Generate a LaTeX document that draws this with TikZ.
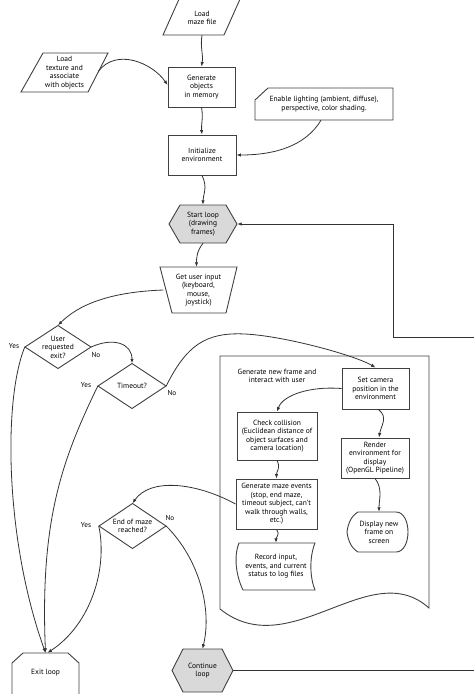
\documentclass[tikz,border=0pt]{standalone}
\usepackage{fontspec}
\setmainfont{PT Sans}
\usetikzlibrary{calc,arrows.meta}
\begin{document}
\begin{tikzpicture}[x=1pt,y=-1pt,
  every node/.style={font=\fontsize{7.5}{8.5}\selectfont, align=center, inner sep=0pt, text=black},
  shp/.style={draw=black!75, line width=0.9pt, fill=white},
  gry/.style={shp, fill=black!15},
  rbox/.style={draw=black!75, line width=0.9pt, fill=white},
  conn/.style={draw=black!80, line width=0.8pt},
  arr/.style={conn, -{Latex[length=4.5pt,width=3.5pt]}},
  lbl/.style={font=\fontsize{7.2}{8}\selectfont}]
\useasboundingbox (0,0) rectangle (474,694);

% container
\draw[shp] (220,609) -- (220,356) -- (429,356) -- (429,608) .. controls (370,555) and (290,665) .. (220,609);

% shapes drawn directly
\draw[shp] (163,35) -- (224,35) -- (241,-3) -- (180,-3) -- cycle;
\draw[shp] (21,92) -- (88,92) -- (108,53) -- (43,53) -- cycle;
\draw[shp] (268,88) -- (393,88) -- (393,120) -- (255,120) -- (255,100) -- cycle;
\draw[gry] (169,224) -- (180,205) -- (226,205) -- (237,224) -- (226,243) -- (180,243) -- cycle;
\draw[shp] (160,267) -- (237,267) -- (226,313) -- (172,313) -- cycle;
\draw[shp] (25,347) -- (58,325.5) -- (91,347) -- (58,368.5) -- cycle;
\draw[shp] (98,386) -- (132,363.5) -- (166,386) -- (132,408.5) -- cycle;
\draw[shp] (99,526) -- (132.5,503.5) -- (166,526) -- (132.5,548.5) -- cycle;
\draw[shp] (358,512) -- (396,512) .. controls (412,512) and (412,552) .. (396,552) -- (358,552) .. controls (351,548) and (348,540) .. (347,532) .. controls (348,524) and (351,516) .. (358,512) -- cycle;
\draw[shp] (239,543) -- (315,543) .. controls (309,558) and (310,578) .. (315,590) -- (243,590) .. controls (237,578) and (233,558) .. (239,543) -- cycle;
\draw[shp] (12,700) -- (12,663) -- (23,653) -- (68,653) -- (79,663) -- (79,700);
\draw[gry] (172,670.5) -- (183,649) -- (222,649) -- (233,670.5) -- (222,692) -- (183,692) -- cycle;

% nodes
\node[minimum width=61pt, minimum height=34pt] (maze) at (202,18) {Load\\maze file};
\node[minimum width=67pt, minimum height=39pt] (tex) at (64.5,72.5) {Load\\texture and\\associate\\with objects};
\node[rbox, minimum width=67pt, minimum height=40pt] (gen) at (201.5,87) {Generate\\objects\\in memory};
\node[minimum width=138pt, minimum height=32pt] (light) at (324,104) {Enable lighting (ambient, diffuse),\\perspective, color shading.};
\node[rbox, minimum width=68pt, minimum height=40pt] (init) at (202,155) {Initialize\\environment};
\node[minimum width=68pt, minimum height=38pt] (start) at (203,224) {Start loop\\(drawing\\frames)};
\node[minimum width=77pt, minimum height=46pt] (inp) at (198.5,290) {Get user input\\(keyboard,\\mouse,\\joystick)};
\node[minimum width=66pt, minimum height=43pt] (user) at (58,347) {User\\requested\\exit?};
\node[minimum width=68pt, minimum height=45pt] (tout) at (132,386) {Timeout?};
\node[minimum width=67pt, minimum height=45pt] (endm) at (132.5,526) {End of maze\\reached?};
\node (title) at (277,376) {Generate new frame and\\interact with user};
\node[rbox, minimum width=67pt, minimum height=41pt] (cam) at (375.5,388.5) {Set camera\\position in the\\environment};
\node[rbox, minimum width=80pt, minimum height=48pt] (coll) at (277,436) {Check collision\\(Euclidean distance of\\object surfaces and\\camera location)};
\node[rbox, minimum width=68pt, minimum height=40pt] (rend) at (375,458) {Render\\environment for\\display\\(OpenGL Pipeline)};
\node[rbox, minimum width=81pt, minimum height=50pt] (evt) at (276.5,504) {Generate maze events\\(stop, end maze,\\timeout subject, can't\\walk through walls,\\etc.)};
\node[minimum width=61pt, minimum height=40pt] (disp) at (379,532) {Display new\\frame on\\screen};
\node[minimum width=78pt, minimum height=47pt] (rec) at (276,566.5) {Record input,\\events, and current\\status to log files};
\node[minimum width=67pt, minimum height=40pt] (exit) at (45.5,673) {Exit loop};
\node[minimum width=61pt, minimum height=43pt] (cont) at (202.5,670.5) {Continue\\loop};

% labels
\node[lbl] (y1) at (14,346) {Yes};
\node[lbl] (n1) at (96,355) {No};
\node[lbl] (y2) at (86,385) {Yes};
\node[lbl] (n2) at (172,393) {No};
\node[lbl] (y3) at (86,525) {Yes};
\node[lbl] (n3) at (170,518) {No};

% edge coordinates
\coordinate (edgeA) at (474,670.5);
\coordinate (edgeB) at (474,337);
\coordinate (bendB) at (393,337);
\coordinate (bendC) at (393,224);
\coordinate (via1) at (245,334);

% connectors
\draw[arr] (maze.south) .. controls +(-2,12) and +(2,-12) .. (gen.north);
\draw[arr] ($(tex.east)+(0,-1)$) .. controls +(18,-24) and +(-15,-22) .. ($(gen.west)+(0,-2)$);
\draw[arr] (gen.south) .. controls +(2,10) and +(-1,-10) .. (init.north);
\draw[arr] ($(light.south)+(-3,0)$) .. controls +(-15,25) and +(40,0) .. (init.east);
\draw[arr] (init.south) .. controls +(6,12) and +(0,-10) .. (start.north);
\draw[arr] (start.south) .. controls +(-6,8) and +(0,-10) .. ($(inp.north)+(-2,0)$);
\draw[arr] ($(inp.west)+(3.5,0)$) .. controls +(-55,2) and +(20,-20) .. (user.north);
\draw[arr] (user.east) .. controls +(22,-10) and +(0,-20) .. (tout.north);
\draw[arr] (tout.east) .. controls +(20,-40) and +(-40,-2) .. (via1) .. controls +(40,2) and +(-20,-12) .. (cam.north);
\draw[arr] (user.west) .. controls (3,400) and (5,540) .. (exit.north);
\draw[arr] (tout.west) .. controls (62,460) and (40,520) .. (exit.north);
\draw[arr] (endm.west) .. controls (108,570) and (90,625) .. ($(exit.north)+(2,0)$);
\draw[arr] (endm.east) .. controls (200,560) and (212,610) .. (cont.north);
\draw[arr] (evt.west) .. controls (195,482) and (150,478) .. (endm.north);
\draw[arr] (cam.west) .. controls (310,386) and (283,395) .. (coll.north);
\draw[arr] (coll.south) .. controls +(4,8) and +(0,-8) .. (evt.north);
\draw[arr] (evt.south) .. controls +(4,6) and +(0,-7) .. (rec.north);
\draw[arr] ($(cam.south)+(3,0)$) .. controls +(10,8) and +(2,-12) .. ($(rend.north)+(4,0)$);
\draw[arr] (rend.south) .. controls +(8,10) and +(0,-12) .. (disp.north);
\draw[conn] (cont.east) -- (edgeA);
\draw[arr] (edgeB) -- (bendB) -- (bendC) -- (start.east);
\end{tikzpicture}
\end{document}
